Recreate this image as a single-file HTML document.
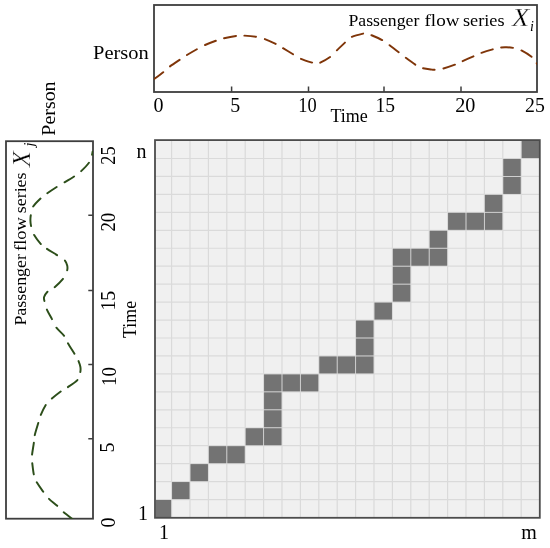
<!DOCTYPE html>
<html><head><meta charset="utf-8"><style>
html,body{margin:0;padding:0;background:#fff;}
svg{display:block;}
</style></head><body>
<svg width="550" height="548" viewBox="0 0 550 548">
<rect x="155" y="140" width="385" height="378" fill="#f0f0f0"/>
<path d="M171.6,140V518M190.0,140V518M208.4,140V518M226.8,140V518M245.2,140V518M263.6,140V518M282.0,140V518M300.4,140V518M318.8,140V518M337.2,140V518M355.6,140V518M374.0,140V518M392.4,140V518M410.8,140V518M429.2,140V518M447.6,140V518M466.0,140V518M484.4,140V518M502.8,140V518M521.2,140V518M155,158.50H540M155,176.45H540M155,194.40H540M155,212.35H540M155,230.30H540M155,248.25H540M155,266.20H540M155,284.15H540M155,302.10H540M155,320.05H540M155,338.00H540M155,355.95H540M155,373.90H540M155,391.85H540M155,409.80H540M155,427.75H540M155,445.70H540M155,463.65H540M155,481.60H540M155,499.55H540" stroke="#dadada" stroke-width="1.2" fill="none"/>
<rect x="155.70" y="500.00" width="15.45" height="17.10" fill="#737373"/>
<rect x="172.05" y="482.05" width="17.50" height="17.05" fill="#737373"/>
<rect x="190.45" y="464.10" width="17.50" height="17.05" fill="#737373"/>
<rect x="208.85" y="446.15" width="17.50" height="17.05" fill="#737373"/>
<rect x="227.25" y="446.15" width="17.50" height="17.05" fill="#737373"/>
<rect x="245.65" y="428.20" width="17.50" height="17.05" fill="#737373"/>
<rect x="264.05" y="428.20" width="17.50" height="17.05" fill="#737373"/>
<rect x="264.05" y="410.25" width="17.50" height="17.05" fill="#737373"/>
<rect x="264.05" y="392.30" width="17.50" height="17.05" fill="#737373"/>
<rect x="264.05" y="374.35" width="17.50" height="17.05" fill="#737373"/>
<rect x="282.45" y="374.35" width="17.50" height="17.05" fill="#737373"/>
<rect x="300.85" y="374.35" width="17.50" height="17.05" fill="#737373"/>
<rect x="319.25" y="356.40" width="17.50" height="17.05" fill="#737373"/>
<rect x="337.65" y="356.40" width="17.50" height="17.05" fill="#737373"/>
<rect x="356.05" y="356.40" width="17.50" height="17.05" fill="#737373"/>
<rect x="356.05" y="338.45" width="17.50" height="17.05" fill="#737373"/>
<rect x="356.05" y="320.50" width="17.50" height="17.05" fill="#737373"/>
<rect x="374.45" y="302.55" width="17.50" height="17.05" fill="#737373"/>
<rect x="392.85" y="284.60" width="17.50" height="17.05" fill="#737373"/>
<rect x="392.85" y="266.65" width="17.50" height="17.05" fill="#737373"/>
<rect x="392.85" y="248.70" width="17.50" height="17.05" fill="#737373"/>
<rect x="411.25" y="248.70" width="17.50" height="17.05" fill="#737373"/>
<rect x="429.65" y="248.70" width="17.50" height="17.05" fill="#737373"/>
<rect x="429.65" y="230.75" width="17.50" height="17.05" fill="#737373"/>
<rect x="448.05" y="212.80" width="17.50" height="17.05" fill="#737373"/>
<rect x="466.45" y="212.80" width="17.50" height="17.05" fill="#737373"/>
<rect x="484.85" y="212.80" width="17.50" height="17.05" fill="#737373"/>
<rect x="484.85" y="194.85" width="17.50" height="17.05" fill="#737373"/>
<rect x="503.25" y="176.90" width="17.50" height="17.05" fill="#737373"/>
<rect x="503.25" y="158.95" width="17.50" height="17.05" fill="#737373"/>
<rect x="521.65" y="140.90" width="17.35" height="17.15" fill="#737373"/>
<rect x="155" y="140.1" width="384.8" height="377.7" fill="none" stroke="#4c4c4c" stroke-width="1.8"/>
<rect x="154" y="5" width="383" height="87" fill="none" stroke="#3e3e3e" stroke-width="1.8"/>
<path d="M231.6,92V86.6M308.5,92V86.6M384.0,92V86.6M461.0,92V86.6" stroke="#3e3e3e" stroke-width="1.5"/>
<clipPath id="ct"><rect x="154" y="5" width="383" height="87"/></clipPath>
<path clip-path="url(#ct)" d="M153.00,79.90C154.69,78.63 160.29,74.50 163.21,72.21M170.00,66.40C172.65,64.45 176.87,61.70 179.59,59.88M186.93,55.04C189.70,53.35 193.97,50.87 196.86,49.25M205.07,45.00C208.11,43.68 212.79,41.88 215.84,40.77M224.08,38.19C227.36,37.45 232.73,36.43 236.02,35.97M244.39,35.62C247.62,35.79 252.71,36.23 256.00,36.72M264.87,39.08C268.01,40.29 272.72,42.45 275.66,43.88M283.02,48.15C285.82,49.83 290.20,52.52 293.07,54.24M300.97,58.80C304.09,60.08 309.45,61.76 312.11,62.58M320.27,62.72C322.68,61.55 327.36,58.92 330.08,57.00M336.87,50.34C339.22,48.06 342.57,44.83 344.93,42.65M351.86,36.79C354.88,35.47 360.47,34.19 363.11,33.59M371.39,35.17C374.05,36.31 379.18,38.50 382.16,40.07M389.61,45.20C392.24,47.16 396.12,50.18 398.70,52.19M405.81,57.80C408.47,59.80 412.56,62.89 415.29,64.64M423.03,68.24C425.78,68.94 429.98,69.35 432.00,69.60C433.77,69.82 433.69,69.86 434.63,69.77M443.47,68.47C446.70,67.59 451.83,65.82 454.95,64.67M462.65,61.20C465.64,59.84 470.42,57.66 473.45,56.30M481.47,52.83C484.59,51.74 489.58,50.23 492.73,49.33M501.15,47.41C503.04,47.16 504.53,47.12 506.50,47.20C508.50,47.28 510.77,47.46 512.99,47.88M521.44,50.42C524.39,51.94 529.00,54.82 531.53,56.80M536.71,63.29C537.73,64.79 538.60,66.37 539.00,67.00" fill="none" stroke="#7f3509" stroke-width="1.95" stroke-linecap="round"/>
<rect x="6" y="141.2" width="87" height="377.5" fill="none" stroke="#3e3e3e" stroke-width="1.8"/>
<path d="M93,438.7H88.3M93,364.5H88.3M93,290.6H88.3M93,215.3H88.3" stroke="#3e3e3e" stroke-width="1.5"/>
<clipPath id="cl"><rect x="6" y="141.2" width="87" height="377.5"/></clipPath>
<path clip-path="url(#cl)" d="M73.50,519.80C71.88,518.56 66.49,514.66 63.69,512.33M57.21,505.85C54.86,503.76 51.24,501.04 48.97,498.86M43.20,491.69C41.26,489.04 38.34,485.06 36.74,482.33M33.79,474.41C33.15,471.28 32.58,465.91 32.25,463.21M32.05,454.59C32.42,451.74 33.39,445.98 33.84,442.77M34.71,435.15C35.49,431.90 37.27,426.26 38.26,422.96M40.80,414.94C42.03,412.08 44.05,407.70 45.73,405.02M51.88,398.56C54.31,396.44 58.15,393.36 60.70,391.49M67.91,387.12C70.62,385.27 75.21,382.34 77.39,380.05M80.33,372.05C80.66,370.25 80.68,368.82 80.40,367.00C80.11,365.14 79.39,363.04 78.55,361.06M74.45,353.79C72.71,350.93 69.64,346.23 67.94,343.32M64.10,335.81C62.15,333.38 58.44,330.27 56.41,327.71M51.95,319.13C50.45,316.28 48.16,312.37 46.90,309.56M44.43,300.99C44.03,299.43 43.62,298.52 44.10,297.00C44.60,295.42 45.94,293.29 47.46,291.73M54.67,287.19C57.14,285.09 60.89,281.49 62.99,278.89M67.19,270.32C67.64,268.50 67.57,267.12 67.20,265.50C66.82,263.86 66.25,262.16 64.95,260.60M57.07,255.12C54.18,253.29 49.66,250.62 46.99,248.86M40.88,244.04C38.85,241.73 35.81,237.74 34.15,234.94M31.04,226.04C30.59,224.01 30.45,222.32 30.40,220.50C30.36,218.69 30.46,217.20 30.78,215.27M33.17,206.48C34.87,203.93 38.30,200.69 40.54,198.55M47.31,193.21C49.91,191.38 53.94,188.72 56.67,186.97M64.54,182.33C67.31,180.67 71.41,178.23 74.08,176.48M81.17,171.15C83.52,168.92 87.07,165.32 88.92,162.79M92.04,154.70C92.40,153.33 92.49,152.32 92.60,151.80" fill="none" stroke="#2c4e1a" stroke-width="1.95" stroke-linecap="round"/>
<text x="93.10" y="59.20" font-size="19.5" font-family="'Liberation Serif', serif" textLength="55.69" lengthAdjust="spacingAndGlyphs">Person</text>
<text x="348.50" y="25.50" font-size="17" font-family="'Liberation Serif', serif" textLength="70.78" lengthAdjust="spacingAndGlyphs">Passenger</text>
<text x="424.50" y="25.50" font-size="17" font-family="'Liberation Serif', serif" textLength="34.97" lengthAdjust="spacingAndGlyphs">flow</text>
<text x="463.00" y="25.50" font-size="17" font-family="'Liberation Serif', serif" textLength="41.52" lengthAdjust="spacingAndGlyphs">series</text>
<text x="511.90" y="25.80" font-size="26" font-family="'Liberation Serif', serif" font-style="italic" textLength="17.29" lengthAdjust="spacingAndGlyphs" stroke="#fff" stroke-width="0.3">X</text>
<text x="530.10" y="30.90" font-size="14" font-family="'Liberation Serif', serif" font-style="italic">i</text>
<text x="153.40" y="111.90" font-size="20" font-family="'Liberation Serif', serif">0</text>
<text x="230.30" y="111.50" font-size="20" font-family="'Liberation Serif', serif">5</text>
<text x="298.30" y="111.50" font-size="20" font-family="'Liberation Serif', serif" textLength="18.40" lengthAdjust="spacingAndGlyphs">10</text>
<text x="375.50" y="111.50" font-size="20" font-family="'Liberation Serif', serif" textLength="19.60" lengthAdjust="spacingAndGlyphs">15</text>
<text x="455.20" y="111.50" font-size="20" font-family="'Liberation Serif', serif" textLength="20.20" lengthAdjust="spacingAndGlyphs">20</text>
<text x="525.00" y="111.50" font-size="20" font-family="'Liberation Serif', serif" textLength="19.80" lengthAdjust="spacingAndGlyphs">25</text>
<text x="330.40" y="121.70" font-size="18" font-family="'Liberation Serif', serif" textLength="37.36" lengthAdjust="spacingAndGlyphs">Time</text>
<text transform="translate(54.70,135.70) rotate(-90)" font-size="19.5" font-family="'Liberation Serif', serif" textLength="54.29" lengthAdjust="spacingAndGlyphs">Person</text>
<text transform="translate(26.30,325.60) rotate(-90)" font-size="17" font-family="'Liberation Serif', serif" textLength="71.58" lengthAdjust="spacingAndGlyphs">Passenger</text>
<text transform="translate(26.30,251.00) rotate(-90)" font-size="17" font-family="'Liberation Serif', serif" textLength="33.97" lengthAdjust="spacingAndGlyphs">flow</text>
<text transform="translate(26.30,213.20) rotate(-90)" font-size="17" font-family="'Liberation Serif', serif" textLength="40.72" lengthAdjust="spacingAndGlyphs">series</text>
<text transform="translate(29.60,167.10) rotate(-90)" font-size="26" font-family="'Liberation Serif', serif" font-style="italic" textLength="15.69" lengthAdjust="spacingAndGlyphs" stroke="#fff" stroke-width="0.3">X</text>
<text transform="translate(33.60,146.50) rotate(-90)" font-size="14" font-family="'Liberation Serif', serif" font-style="italic">j</text>
<text transform="translate(114.90,164.70) rotate(-90)" font-size="20" font-family="'Liberation Serif', serif" textLength="18.20" lengthAdjust="spacingAndGlyphs">25</text>
<text transform="translate(114.90,231.60) rotate(-90)" font-size="20" font-family="'Liberation Serif', serif" textLength="18.80" lengthAdjust="spacingAndGlyphs">20</text>
<text transform="translate(114.50,310.60) rotate(-90)" font-size="20" font-family="'Liberation Serif', serif" textLength="19.80" lengthAdjust="spacingAndGlyphs">15</text>
<text transform="translate(115.50,385.90) rotate(-90)" font-size="20" font-family="'Liberation Serif', serif" textLength="18.80" lengthAdjust="spacingAndGlyphs">10</text>
<text transform="translate(114.10,452.60) rotate(-90)" font-size="20" font-family="'Liberation Serif', serif">5</text>
<text transform="translate(114.50,527.50) rotate(-90)" font-size="20" font-family="'Liberation Serif', serif">0</text>
<text transform="translate(136.00,337.90) rotate(-90)" font-size="18" font-family="'Liberation Serif', serif" textLength="36.96" lengthAdjust="spacingAndGlyphs">Time</text>
<text x="136.40" y="158.00" font-size="20" font-family="'Liberation Serif', serif">n</text>
<text x="137.90" y="519.80" font-size="20" font-family="'Liberation Serif', serif">1</text>
<text x="158.90" y="538.90" font-size="20" font-family="'Liberation Serif', serif">1</text>
<text x="521.20" y="539.40" font-size="20" font-family="'Liberation Serif', serif">m</text>
</svg>
</body></html>
